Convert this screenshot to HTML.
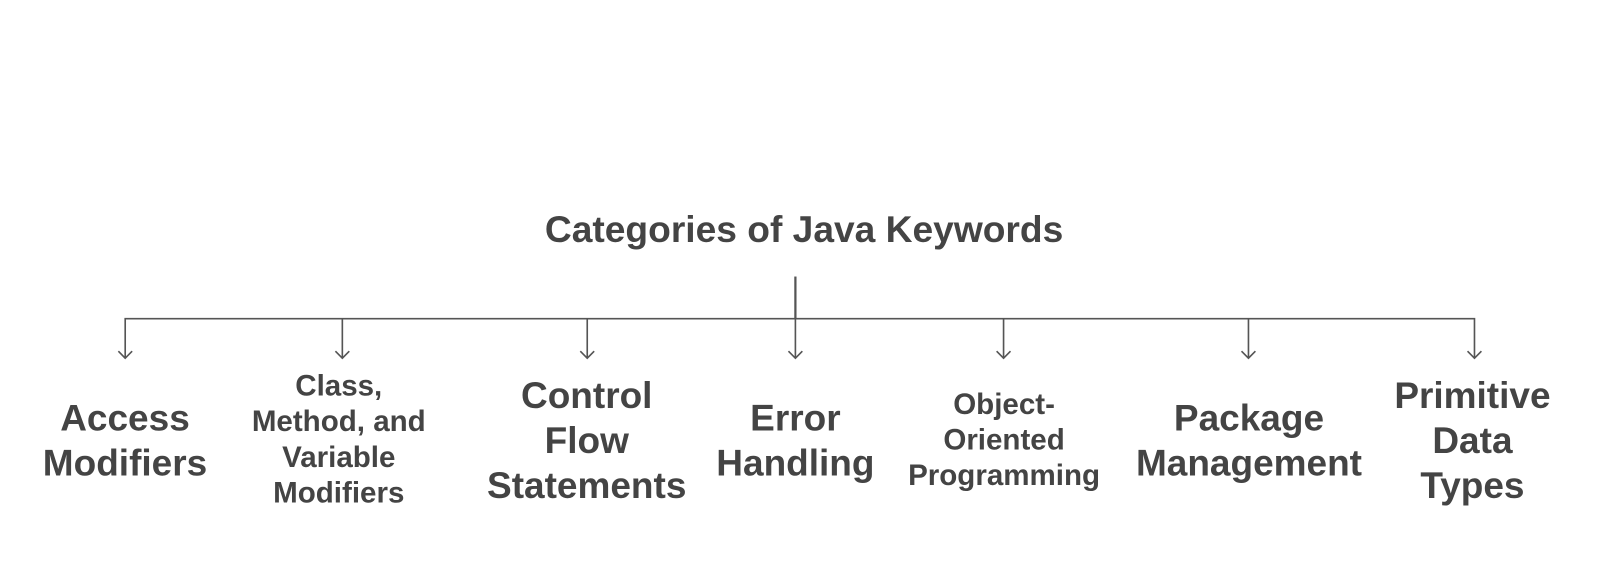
<!DOCTYPE html>
<html>
<head>
<meta charset="utf-8">
<style>
html,body{margin:0;padding:0;background:#fff;}
svg{display:block;}
text{font-family:"Liberation Sans",Arial,sans-serif;font-weight:bold;fill:#444;text-anchor:middle;}
.l{font-size:36.26px;}
.s{font-size:28.95px;}
.ln{stroke:#555;fill:none;stroke-width:1.6;}
</style>
</head>
<body>
<svg width="1600" height="584" viewBox="0 0 1600 584" xmlns="http://www.w3.org/2000/svg">
<rect width="1600" height="584" fill="#fff"/>
<g transform="scale(1.0204)">
<path class="ln" style="stroke-width:2.2" d="M779.5 271V312"/>
<path class="ln" d="M122.7 351V312.3H1445V351"/>
<path class="ln" d="M335.5 312V351M575.5 312V351M779.5 312V351M983.5 312V351M1223.5 312V351"/>
<path class="ln" d="M116 344.2L122.7 351L129.5 344.2M328.7 344.2L335.5 351L342.3 344.2M568.7 344.2L575.5 351L582.3 344.2M772.7 344.2L779.5 351L786.3 344.2M976.7 344.2L983.5 351L990.3 344.2M1216.7 344.2L1223.5 351L1230.3 344.2M1438.2 344.2L1445 351L1451.8 344.2"/>
<text x="788" y="237" class="l" textLength="508" lengthAdjust="spacingAndGlyphs">Categories of Java Keywords</text>
<text x="122.5" y="422" class="l">Access</text>
<text x="122.5" y="466" class="l">Modifiers</text>
<text x="332" y="387.5" class="s">Class,</text>
<text x="332" y="422.5" class="s">Method, and</text>
<text x="332" y="457.5" class="s">Variable</text>
<text x="332" y="492.5" class="s">Modifiers</text>
<text x="575" y="400" class="l">Control</text>
<text x="575" y="444" class="l">Flow</text>
<text x="575" y="488" class="l">Statements</text>
<text x="779.5" y="422" class="l">Error</text>
<text x="779.5" y="466" class="l">Handling</text>
<text x="984" y="405.5" class="s">Object-</text>
<text x="984" y="440.5" class="s">Oriented</text>
<text x="984" y="475.5" class="s">Programming</text>
<text x="1224" y="422" class="l">Package</text>
<text x="1224" y="466" class="l">Management</text>
<text x="1443" y="400" class="l">Primitive</text>
<text x="1443" y="444" class="l">Data</text>
<text x="1443" y="488" class="l">Types</text>
</g>
</svg>
</body>
</html>
